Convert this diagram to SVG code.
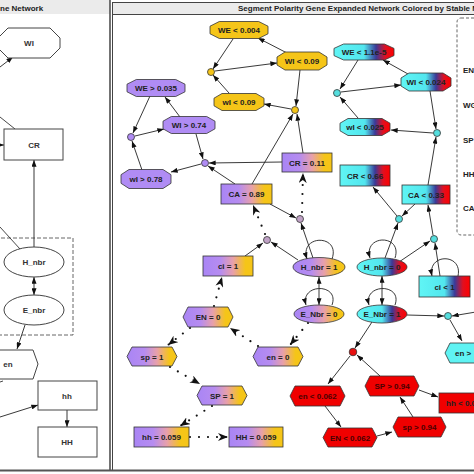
<svg xmlns="http://www.w3.org/2000/svg" width="474" height="474" viewBox="0 0 474 474">
<style>
.n{stroke:#333;stroke-width:0.8}
.ln{fill:#fff;stroke:#444;stroke-width:1}
.t{font-family:"Liberation Sans",Arial,sans-serif;font-size:8px;font-weight:bold;text-anchor:middle;fill:#222}
.tl{font-family:"Liberation Sans",Arial,sans-serif;font-size:8px;font-weight:bold;text-anchor:middle;fill:#333}
.tr{fill:#4a0000}
.ti{font-family:"Liberation Sans",Arial,sans-serif;font-size:8px;font-weight:bold;fill:#222}
.e{stroke:#222;stroke-width:0.9;fill:none;marker-end:url(#ah)}
.b{marker-start:url(#ah)}
.d{stroke:#111;stroke-width:2.2;stroke-linecap:round;stroke-dasharray:0 9;fill:none;marker-end:url(#av)}
.cy{fill:#f5c518}.cp{fill:#b08cf4}.cm{fill:#c0a2c6}.cc{fill:#55dede}.cr{fill:#e81010}
.yl{fill:#f5c518}.pu{fill:#b08cf4}.py{fill:url(#gPY)}.cg{fill:url(#gCR)}.rd{fill:#f00000}.cn{fill:#5ff3f3}
</style>
<defs>
<linearGradient id="gPY" x1="0" y1="0" x2="1" y2="0">
<stop offset="0" stop-color="#a985f5"/><stop offset="0.35" stop-color="#b68cf0"/><stop offset="0.6" stop-color="#e8a0aa"/><stop offset="0.85" stop-color="#f5c518"/><stop offset="1" stop-color="#f5c518"/>
</linearGradient>
<linearGradient id="gCR" x1="0" y1="0" x2="1" y2="0">
<stop offset="0" stop-color="#60f5f5"/><stop offset="0.5" stop-color="#52e6ee"/><stop offset="0.7" stop-color="#3a3a98"/><stop offset="0.86" stop-color="#e01020"/><stop offset="1" stop-color="#ff0000"/>
</linearGradient>
<marker id="ah" viewBox="0 0 8 6" refX="8" refY="3" markerWidth="7" markerHeight="5" markerUnits="userSpaceOnUse" orient="auto-start-reverse"><path d="M0,0 L8,3 L0,6 z" fill="#111"/></marker>
<marker id="av" viewBox="0 0 10 8" refX="10" refY="4" markerWidth="10" markerHeight="8" markerUnits="userSpaceOnUse" orient="auto"><path d="M0,0 L10,4 L0,8 L3,4 z" fill="#111"/></marker>
</defs>
<rect width="474" height="474" fill="#fff"/>
<g id="frames">
<rect x="-2" y="-2" width="112" height="16" fill="#ebebeb"/>
<rect x="112.5" y="2.5" width="370" height="12" fill="#ebebeb" stroke="#444" stroke-width="1"/>
<line x1="110" y1="0" x2="110" y2="471" stroke="#444" stroke-width="1.5"/>
<line x1="112.5" y1="2.5" x2="112.5" y2="470" stroke="#444" stroke-width="1"/>
<line x1="0" y1="470.5" x2="474" y2="470.5" stroke="#555" stroke-width="2"/>
<text class="ti" x="0" y="11">ne Network</text>
<text class="ti" x="238" y="11">Segment Polarity Gene Expanded Network Colored by Stable M</text>
<rect x="457" y="18" width="30" height="217" rx="4" fill="none" stroke="#555" stroke-width="0.9" stroke-dasharray="3 2"/>
<text class="ti" x="463" y="73">EN</text>
<text class="ti" x="463" y="108">WG</text>
<text class="ti" x="463" y="143">SP</text>
<text class="ti" x="463" y="177">HH</text>
<text class="ti" x="463" y="211">CA</text>
</g>
<g id="connectors">
<rect x="-5" y="238" width="78" height="97" fill="none" stroke="#555" stroke-width="0.9" stroke-dasharray="4 2"/>
<line class="e" x1="0" y1="67" x2="13" y2="57"/>
<line x1="0" y1="117" x2="15" y2="129" stroke="#333" stroke-width="0.9"/>
<line class="e" x1="-5" y1="145" x2="4" y2="145"/>
<line class="e" x1="34" y1="247" x2="34" y2="160"/>
<line x1="0" y1="227" x2="20" y2="249" stroke="#333" stroke-width="0.9"/>
<line class="e b" x1="34" y1="277" x2="34" y2="295"/>
<line class="e" x1="25" y1="325" x2="17" y2="349"/>
<line x1="0" y1="382" x2="3" y2="381" stroke="#333" stroke-width="0.9"/>
<line class="e" x1="0" y1="417" x2="38" y2="405"/>
<line class="e" x1="67" y1="410" x2="67" y2="427"/>

<line class="e" x1="233" y1="39" x2="213" y2="69"/>
<line class="e" x1="215" y1="71" x2="277" y2="63"/>
<line class="e" x1="287" y1="53" x2="258" y2="38"/>
<line class="e" x1="229" y1="93" x2="213" y2="75"/>
<line class="e" x1="300" y1="70" x2="296" y2="106"/>
<line class="e" x1="291" y1="109" x2="264" y2="104"/>
<line class="e" x1="252" y1="184" x2="293" y2="114"/>
<line class="e" x1="303" y1="153" x2="297" y2="114"/>
<line class="e" x1="150" y1="96" x2="133" y2="133"/>
<line class="e" x1="135" y1="136" x2="164" y2="129"/>
<line class="e" x1="180" y1="117" x2="165" y2="97"/>
<line class="e" x1="196" y1="134" x2="203" y2="159"/>
<line class="e" x1="142" y1="170" x2="132" y2="141"/>
<line class="e" x1="201" y1="164" x2="171" y2="172"/>
<line class="e" x1="282" y1="162" x2="209" y2="163"/>
<line class="e" x1="235" y1="184" x2="208" y2="166"/>
<line class="e" x1="270" y1="204" x2="296" y2="218"/>
<line class="e" x1="313" y1="258" x2="301" y2="223"/>
<line class="d" x1="302" y1="212" x2="303" y2="173"/>
<line class="e" x1="245" y1="256" x2="263" y2="243"/>
<line class="e" x1="298" y1="260" x2="271" y2="242"/>
<line class="d" x1="265" y1="234" x2="253" y2="205"/>
<line class="d" x1="214" y1="306" x2="222" y2="277"/>
<line class="d" x1="308" y1="323" x2="290" y2="345"/>
<line class="d" x1="258" y1="346" x2="230" y2="328"/>
<line class="d" x1="190" y1="328" x2="168" y2="345"/>
<line class="d" x1="170" y1="367" x2="200" y2="384"/>
<line class="d" x1="212" y1="406" x2="180" y2="426"/>
<line class="d" x1="190" y1="437" x2="228" y2="437"/>
<path class="e" d="M332,259 C341,234 299,234 307,259"/>
<path class="e" d="M332,305 C340,283 300,283 306,305"/>
<line class="e b" x1="319" y1="277" x2="319" y2="305"/>

<line class="e" x1="358" y1="60" x2="340" y2="89"/>
<line class="e" x1="341" y1="92" x2="401" y2="85"/>
<line class="e" x1="408" y1="74" x2="383" y2="60"/>
<line class="e" x1="358" y1="118" x2="340" y2="97"/>
<line class="e" x1="430" y1="91" x2="436" y2="129"/>
<line class="e" x1="433" y1="133" x2="391" y2="130"/>
<line class="e" x1="428" y1="185" x2="436" y2="137"/>
<line class="e" x1="397" y1="216" x2="373" y2="187"/>
<line class="e" x1="415" y1="204" x2="402" y2="216"/>
<line class="e" x1="385" y1="258" x2="398" y2="223"/>
<line class="e" x1="440" y1="276" x2="435" y2="243"/>
<line class="e" x1="433" y1="235" x2="428" y2="205"/>
<line class="e" x1="399" y1="262" x2="430" y2="241"/>
<line class="e" x1="407" y1="315" x2="444" y2="316"/>
<line class="e" x1="476" y1="312" x2="452" y2="316"/>
<line class="e" x1="450" y1="320" x2="462" y2="341"/>
<path class="e" d="M395,258 C403,234 363,234 370,258"/>
<path class="e" d="M395,305 C403,283 363,283 369,305"/>
<line class="e b" x1="382" y1="276" x2="382" y2="305"/>
<path class="e" d="M458,276 C463,253 427,253 432,276"/>
<line class="e" x1="372" y1="322" x2="355" y2="348"/>
<line class="e" x1="380" y1="376" x2="357" y2="355"/>
<line class="e" x1="350" y1="356" x2="328" y2="384"/>
<line class="e" x1="325" y1="406" x2="341" y2="427"/>
<line class="e" x1="377" y1="436" x2="392" y2="432"/>
<line class="e" x1="413" y1="417" x2="400" y2="397"/>
<line class="e" x1="419" y1="390" x2="438" y2="397"/>
</g>

<g id="L_WI"><polygon class="ln" points="8,28 50,28 60,38 60,48 50,58 8,58 -2,48 -2,38"/><text class="tl" x="29" y="46">WI</text></g>
<g id="L_CR"><rect class="ln" x="4" y="129" width="59" height="31"/><text class="tl" x="34" y="148">CR</text></g>
<g id="L_Hnbr"><ellipse class="ln" cx="34" cy="262" rx="30" ry="15"/><text class="tl" x="34" y="265">H_nbr</text></g>
<g id="L_Enbr"><ellipse class="ln" cx="34" cy="310" rx="30" ry="15"/><text class="tl" x="34" y="313">E_nbr</text></g>
<g id="L_en"><polygon class="ln" points="-30,364 -25,350 33,350 38,364 33,379 -25,379"/><text class="tl" x="8" y="367">en</text></g>
<g id="L_hh"><rect class="ln" x="38" y="381" width="59" height="29"/><text class="tl" x="67" y="399">hh</text></g>
<g id="L_HH"><rect class="ln" x="38" y="427" width="59" height="30"/><text class="tl" x="67" y="445">HH</text></g>

<g id="WE_lt_0004"><polygon class="n yl" points="219.3,21.5 258.7,21.5 268,26.2 268,33.8 258.7,38.5 219.3,38.5 210,33.8 210,26.2"/><text class="t" x="239" y="33">WE &lt; 0.004</text></g>
<g id="WI_lt_009"><polygon class="n yl" points="285,52 319,52 327,57 327,65 319,70 285,70 277,65 277,57"/><text class="t" x="302" y="64">WI &lt; 0.09</text></g>
<g id="wI_lt_009"><polygon class="n yl" points="222,93.5 256,93.5 264,98.2 264,105.8 256,110.5 222,110.5 214,105.8 214,98.2"/><text class="t" x="239" y="105">wI &lt; 0.09</text></g>
<g id="cy1"><circle class="n cy" cx="211" cy="72" r="3.5"/></g>
<g id="cy2"><circle class="n cy" cx="295" cy="110" r="3.5"/></g>

<g id="WE_gt_0035"><polygon class="n pu" points="136.3,79.5 175.7,79.5 185,84.2 185,91.8 175.7,96.5 136.3,96.5 127,91.8 127,84.2"/><text class="t" x="156" y="91">WE &gt; 0.035</text></g>
<g id="WI_gt_074"><polygon class="n pu" points="171.3,116.5 206.7,116.5 215,121.2 215,128.8 206.7,133.5 171.3,133.5 163,128.8 163,121.2"/><text class="t" x="189" y="128">WI &gt; 0.74</text></g>
<g id="wI_gt_078"><polygon class="n pu" points="129,169.5 163,169.5 171,174.7 171,183.3 163,188.5 129,188.5 121,183.3 121,174.7"/><text class="t" x="146" y="182">wI &gt; 0.78</text></g>
<g id="cp1"><circle class="n cp" cx="131" cy="137" r="3.5"/></g>
<g id="cp2"><circle class="n cp" cx="205" cy="163" r="3.5"/></g>

<g id="CA_089"><rect class="n py" x="221" y="184" width="51" height="20"/><text class="t" x="246.5" y="197">CA = 0.89</text></g>
<g id="CR_011"><rect class="n py" x="282" y="153" width="50" height="19"/><text class="t" x="307" y="165.5">CR = 0.11</text></g>
<g id="ci_1"><rect class="n py" x="203" y="256" width="50" height="20"/><text class="t" x="228" y="269">ci = 1</text></g>
<g id="H_nbr_1"><ellipse class="n py" cx="319" cy="267" rx="26" ry="9.5"/><text class="t" x="319" y="270">H_nbr = 1</text></g>
<g id="E_Nbr_0"><ellipse class="n py" cx="319" cy="314" rx="25" ry="9"/><text class="t" x="319" y="317">E_Nbr = 0</text></g>
<g id="EN_0"><polygon class="n py" points="183,317 188,307 228,307 233,317 228,327 188,327"/><text class="t" x="208" y="320">EN = 0</text></g>
<g id="en_0"><polygon class="n py" points="253,356.5 258,347 298,347 303,356.5 298,366 258,366"/><text class="t" x="278" y="359.5">en = 0</text></g>
<g id="sp_1"><polygon class="n py" points="127,356.5 132,347 172,347 177,356.5 172,366 132,366"/><text class="t" x="152" y="359.5">sp = 1</text></g>
<g id="SP_1"><polygon class="n py" points="197,395.5 202,386 242,386 247,395.5 242,405 202,405"/><text class="t" x="222" y="398.5">SP = 1</text></g>
<g id="hh_0059"><rect class="n py" x="134" y="427" width="55" height="20"/><text class="t" x="161.5" y="440">hh = 0.059</text></g>
<g id="HH_0059"><rect class="n py" x="229" y="427" width="54" height="20"/><text class="t" x="256" y="440">HH = 0.059</text></g>
<g id="cm1"><circle class="n cm" cx="267" cy="240" r="3.5"/></g>
<g id="cm2"><circle class="n cm" cx="300" cy="219" r="3.5"/></g>

<g id="WE_lt_11e5"><polygon class="n cg" points="343.6,44 384.4,44 394,48.4 394,55.6 384.4,60 343.6,60 334,55.6 334,48.4"/><text class="t" x="364" y="55">WE &lt; 1.1e-5</text></g>
<g id="WI_lt_0024"><polygon class="n cg" points="409,73 443,73 451,78 451,86 443,91 409,91 401,86 401,78"/><text class="t" x="426" y="85">WI &lt; 0.024</text></g>
<g id="wI_lt_0025"><polygon class="n cg" points="348,118.5 382,118.5 390,123.2 390,130.8 382,135.5 348,135.5 340,130.8 340,123.2"/><text class="t" x="365" y="130">wI &lt; 0.025</text></g>
<g id="CR_lt_066"><rect class="n cg" x="340" y="165" width="50" height="21"/><text class="t" x="365" y="178.5">CR &lt; 0.66</text></g>
<g id="CA_lt_033"><rect class="n cg" x="402" y="185" width="48" height="19"/><text class="t" x="426" y="197.5">CA &lt; 0.33</text></g>
<g id="ci_lt_1"><rect class="n cg" x="419" y="276" width="51" height="21"/><text class="t" x="444.5" y="289.5">ci &lt; 1</text></g>
<g id="H_nbr_0"><ellipse class="n cg" cx="382" cy="267" rx="25" ry="9"/><text class="t" x="382" y="270">H_nbr = 0</text></g>
<g id="E_Nbr_1"><ellipse class="n cg" cx="382" cy="314" rx="25" ry="9"/><text class="t" x="382" y="317">E_Nbr = 1</text></g>
<g id="en_gt"><polygon class="n cn" points="445,353 450,343 500,343 505,353 500,363 450,363"/><text class="ti" x="455" y="356">en &gt;</text></g>
<g id="cc1"><circle class="n cc" cx="337" cy="93" r="3.5"/></g>
<g id="cc2"><circle class="n cc" cx="437" cy="133" r="3.5"/></g>
<g id="cc3"><circle class="n cc" cx="399" cy="219" r="3.5"/></g>
<g id="cc4"><circle class="n cc" cx="434" cy="239" r="3.5"/></g>
<g id="cc5"><circle class="n cc" cx="448" cy="316" r="3.5"/></g>

<g id="cr1"><circle class="n cr" cx="353" cy="352" r="3.8"/></g>
<g id="SP_gt_094"><polygon class="n rd" points="365,386 370,376 414,376 419,386 414,396 370,396"/><text class="t tr" x="392" y="389">SP &gt; 0.94</text></g>
<g id="en_lt_0062"><polygon class="n rd" points="290,396 295,386 340,386 345,396 340,406 295,406"/><text class="t tr" x="317.5" y="399">en &lt; 0.062</text></g>
<g id="EN_lt_0062"><polygon class="n rd" points="323,437.5 328,428 372,428 377,437.5 372,447 328,447"/><text class="t tr" x="350" y="440.5">EN &lt; 0.062</text></g>
<g id="sp_gt_094"><polygon class="n rd" points="393,427 398,417 441,417 446,427 441,437 398,437"/><text class="t tr" x="419.5" y="430">sp &gt; 0.94</text></g>
<g id="hh_lt"><rect class="n rd" x="439" y="393" width="60" height="20"/><text class="ti tr" x="446" y="406">hh &lt; 0.0</text></g>
</svg>
